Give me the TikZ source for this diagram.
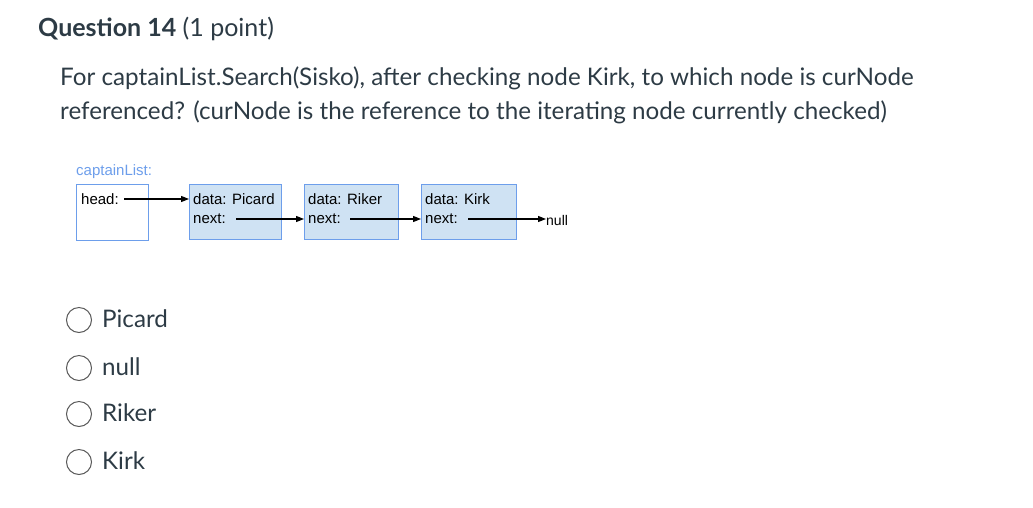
\documentclass[tikz,border=0pt]{standalone}
\usepackage{fontspec}
\setmainfont{Lato}
\newfontfamily\diag{Liberation Sans}
\definecolor{nodefill}{HTML}{CFE2F3}
\definecolor{nodedraw}{HTML}{6D9EEB}
\definecolor{txt}{HTML}{2D3B45}
\usetikzlibrary{arrows.meta}
\begin{document}
\begin{tikzpicture}[x=1pt,y=-1pt,
  qtext/.style={anchor=west,inner sep=0,text=txt,font=\fontsize{24.2}{28}\selectfont},
  lnode/.style={draw=nodedraw,fill=nodefill,line width=1.2pt,minimum width=92pt,minimum height=55pt,anchor=north west,inner sep=0},
  dt/.style={anchor=west,inner sep=0,font=\diag\fontsize{15}{17}\selectfont},
  ptr/.style={-{Triangle[length=8pt,width=6pt]},line width=1.1pt},
  radio/.style={draw=gray!70!black,circle,minimum size=25pt,inner sep=0,line width=1pt}]
\useasboundingbox (0,0) rectangle (1033,507);
\node[qtext,font=\fontsize{25}{28}\selectfont] (title) at (38,29) {\textbf{Question 14} (1 point)};
\node[qtext] (q1) at (60,78) {For captainList.Search(Sisko), after checking node Kirk, to which node is curNode};
\node[qtext] (q2) at (60,112) {referenced? (curNode is the reference to the iterating node currently checked)};
\node[dt,text=nodedraw] (cl) at (76,172) {captainList:};
\node[draw=nodedraw,line width=1.2pt,minimum width=72pt,minimum height=56pt,anchor=north west,inner sep=0] (hb) at (76,184) {};
\node[lnode] (n1) at (189,184) {};
\node[lnode,minimum width=94pt] (n2) at (304,184) {};
\node[lnode,minimum width=95pt] (n3) at (421,184) {};
\node[dt] (h) at (81,199) {head:};
\node[dt] (d1) at (193,199) {data: Picard};
\node[dt] (x1) at (193,219) {next:};
\node[dt] (d2) at (308,199) {data: Riker};
\node[dt] (x2) at (308,219) {next:};
\node[dt] (d3) at (425,199) {data: Kirk};
\node[dt] (x3) at (425,219) {next:};
\node[dt,font=\diag\fontsize{14}{16}\selectfont] (nl) at (546,220) {null};
\coordinate (h0) at (124,199); \coordinate (p0) at (236,219);
\coordinate (r0) at (350,219); \coordinate (k0) at (468,219);
\draw[ptr] (h0) -- (n1.west |- h0);
\draw[ptr] (p0) -- (n2.west |- p0);
\draw[ptr] (r0) -- (n3.west |- r0);
\draw[ptr] (k0) -- (nl.west |- k0);
\foreach \y/\t/\n in {320/Picard/a,368/null/b,414/Riker/c,462/Kirk/d}{
  \node[radio] (r\n) at (79,\y) {};
  \node[qtext] (l\n) at (102,\y-1) {\t};
}
\end{tikzpicture}
\end{document}
